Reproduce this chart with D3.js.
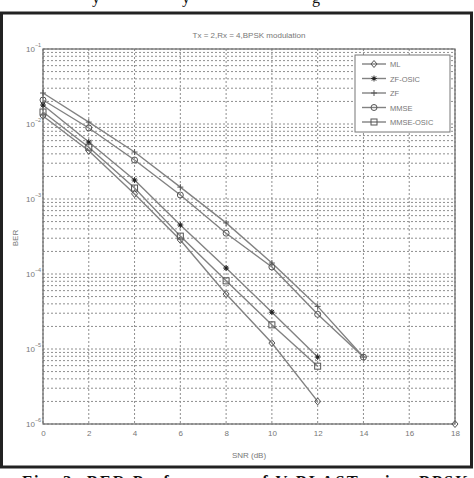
<!DOCTYPE html>
<html><head><meta charset="utf-8">
<script src="https://cdnjs.cloudflare.com/ajax/libs/d3/7.8.5/d3.min.js"></script>
<style>body{margin:0;background:#fff}svg{display:block}</style>
</head><body>
<script>
const snr = [0, 2, 4, 6, 8, 10, 12, 14, 16, 18];
const seriesNames = ["ML", "ZF-OSIC", "ZF", "MMSE", "MMSE-OSIC"];
const berML      = [0.0128, 4.4e-3, 1.17e-3, 2.84e-4, 5.4e-5, 1.2e-5, 2.0e-6, null, null, 1.0e-6];
const berZFOSIC  = [0.0179, 5.75e-3, 1.79e-3, 4.5e-4, 1.2e-4, 3.1e-5, 7.8e-6, null, null, null];
const berZF      = [0.0259, 0.0106, 4.23e-3, 1.44e-3, 4.8e-4, 1.4e-4, 3.7e-5, 7.8e-6, null, null];
const berMMSE    = [0.0209, 8.85e-3, 3.31e-3, 1.13e-3, 3.5e-4, 1.24e-4, 2.9e-5, 7.8e-6, null, null];
const berMMSEOSIC= [0.01445, 4.9e-3, 1.4e-3, 3.2e-4, 8.1e-5, 2.1e-5, 5.9e-6, null, null, null];
const xTicks = [0, 2, 4, 6, 8, 10, 12, 14, 16, 18];
const yExponents = [-1, -2, -3, -4, -5, -6];
const titleText = "Tx = 2,Rx = 4,BPSK modulation";
const xLabel = "SNR (dB)";
const yLabel = "BER";
const caption = "Fig. 3: BER Performance of V-BLAST using BPSK";

const allSeries = [berML, berZFOSIC, berZF, berMMSE, berMMSEOSIC];
const markers = ["diamond", "star", "plus", "circle", "square"];

const W = 474, H = 478;
const svg = d3.select("body").append("svg").attr("width", W).attr("height", H);
svg.append("rect").attr("width", W).attr("height", H).attr("fill", "#fff");

const L = 43, R = 455, T = 49, B = 424;
const x = d3.scaleLinear().domain([0, 18]).range([L, R]);
const y = d3.scaleLog().domain([1e-6, 1e-1]).range([B, T]);

// page fragments (preceding line's descenders and following caption, both cut by the crop)
[["y", 92], ["y", 182], ["g", 312]].forEach(([t, px]) => {
  svg.append("text").attr("x", px).attr("y", 3).attr("font-family", "Liberation Serif")
    .attr("font-size", 16).attr("fill", "#111").text(t);
});
svg.append("text").attr("x", 22).attr("y", 487).attr("font-family", "Liberation Serif")
  .attr("font-weight", "bold").attr("font-size", 16.5).attr("fill", "#111")
  .attr("textLength", 446).text(caption);

// frame
svg.append("rect").attr("x", 1.5).attr("y", 13).attr("width", 470).attr("height", 454)
  .attr("fill", "#fff").attr("stroke", "#222").attr("stroke-width", 3);

const gridColor = "#8e8e8e";
const g = svg.append("g");
// minor y grid
const minor = [];
for (let d = -6; d <= -2; d++) for (let k = 2; k <= 9; k++) minor.push(k * Math.pow(10, d));
g.selectAll(".ymin").data(minor).enter().append("line")
  .attr("x1", L).attr("x2", R).attr("y1", d => y(d)).attr("y2", d => y(d))
  .attr("stroke", gridColor).attr("stroke-width", 1).attr("stroke-dasharray", "2,2");
// major y grid
g.selectAll(".ymaj").data(yExponents).enter().append("line")
  .attr("x1", L).attr("x2", R).attr("y1", d => y(Math.pow(10, d))).attr("y2", d => y(Math.pow(10, d)))
  .attr("stroke", gridColor).attr("stroke-width", 1).attr("stroke-dasharray", "2,2");
// x grid
g.selectAll(".xg").data(xTicks).enter().append("line")
  .attr("x1", d => x(d)).attr("x2", d => x(d)).attr("y1", T).attr("y2", B)
  .attr("stroke", gridColor).attr("stroke-width", 1).attr("stroke-dasharray", "2,2");

// axes box
svg.append("rect").attr("x", L).attr("y", T).attr("width", R - L).attr("height", B - T)
  .attr("fill", "none").attr("stroke", "#666").attr("stroke-width", 1.2);

// x axis
const xAxis = d3.axisBottom(x).tickValues(xTicks).tickSize(0).tickPadding(6);
const xg = svg.append("g").attr("transform", `translate(0,${B})`).call(xAxis);
xg.select(".domain").remove();
xg.selectAll("text").attr("font-family", "Liberation Sans").attr("font-size", 8).attr("fill", "#777");

// y tick labels
const yl = svg.append("g");
yExponents.forEach(e => {
  const t = yl.append("text").attr("x", 26).attr("y", y(Math.pow(10, e)) + 3)
    .attr("font-family", "Liberation Sans").attr("font-size", 8).attr("fill", "#777");
  t.append("tspan").text("10");
  t.append("tspan").attr("dy", -5).attr("font-size", 5.5).text(String(e).replace("-", "\u2212"));
});

// labels
svg.append("text").attr("x", 249).attr("y", 38).attr("text-anchor", "middle")
  .attr("font-family", "Liberation Sans").attr("font-size", 8).attr("fill", "#777").text(titleText);
svg.append("text").attr("x", 249).attr("y", 458).attr("text-anchor", "middle")
  .attr("font-family", "Liberation Sans").attr("font-size", 8).attr("fill", "#777").text(xLabel);
svg.append("text").attr("transform", "translate(18,238) rotate(-90)").attr("text-anchor", "middle")
  .attr("font-family", "Liberation Sans").attr("font-size", 8).attr("fill", "#777").text(yLabel);

const lineColor = "#828282", markColor = "#555";
function drawMarker(sel, type, cx, cy) {
  const s = 3;
  if (type === "circle") sel.append("circle").attr("cx", cx).attr("cy", cy).attr("r", s)
    .attr("fill", "none").attr("stroke", markColor).attr("stroke-width", 1);
  else if (type === "square") sel.append("rect").attr("x", cx - s).attr("y", cy - s).attr("width", 2 * s).attr("height", 2 * s)
    .attr("fill", "none").attr("stroke", markColor).attr("stroke-width", 1);
  else if (type === "diamond") sel.append("path").attr("d", `M${cx},${cy - s - 0.5}L${cx + s},${cy}L${cx},${cy + s + 0.5}L${cx - s},${cy}Z`)
    .attr("fill", "none").attr("stroke", markColor).attr("stroke-width", 1);
  else if (type === "plus") sel.append("path").attr("d", `M${cx - s},${cy}H${cx + s}M${cx},${cy - s}V${cy + s}`)
    .attr("stroke", markColor).attr("stroke-width", 1);
  else if (type === "star") {
    sel.append("path").attr("d", `M${cx - s},${cy}H${cx + s}M${cx},${cy - s}V${cy + s}M${cx - 2.2},${cy - 2.2}L${cx + 2.2},${cy + 2.2}M${cx - 2.2},${cy + 2.2}L${cx + 2.2},${cy - 2.2}`)
      .attr("stroke", "#333").attr("stroke-width", 1);
    sel.append("circle").attr("cx", cx).attr("cy", cy).attr("r", 1.6).attr("fill", "#222");
  }
}

const line = d3.line().defined(d => d[1] != null).x(d => x(d[0])).y(d => y(d[1]));
const plot = svg.append("g");
allSeries.forEach((s, i) => {
  const pts = snr.map((v, j) => [v, s[j]]);
  plot.append("path").datum(pts).attr("d", line).attr("fill", "none")
    .attr("stroke", lineColor).attr("stroke-width", 1.4);
  pts.filter(p => p[1] != null).forEach(p => drawMarker(plot, markers[i], x(p[0]), y(p[1])));
});

// legend
const lg = svg.append("g");
lg.append("rect").attr("x", 355).attr("y", 55).attr("width", 95).attr("height", 77)
  .attr("fill", "#fff").attr("stroke", "#777").attr("stroke-width", 1);
seriesNames.forEach((n, i) => {
  const ly = 64 + i * 14.5;
  lg.append("line").attr("x1", 362).attr("x2", 386).attr("y1", ly).attr("y2", ly)
    .attr("stroke", lineColor).attr("stroke-width", 1.4);
  drawMarker(lg, markers[i], 374, ly);
  lg.append("text").attr("x", 390).attr("y", ly + 3).attr("font-family", "Liberation Sans")
    .attr("font-size", 7.5).attr("fill", "#777").text(n);
});
</script>
</body></html>
